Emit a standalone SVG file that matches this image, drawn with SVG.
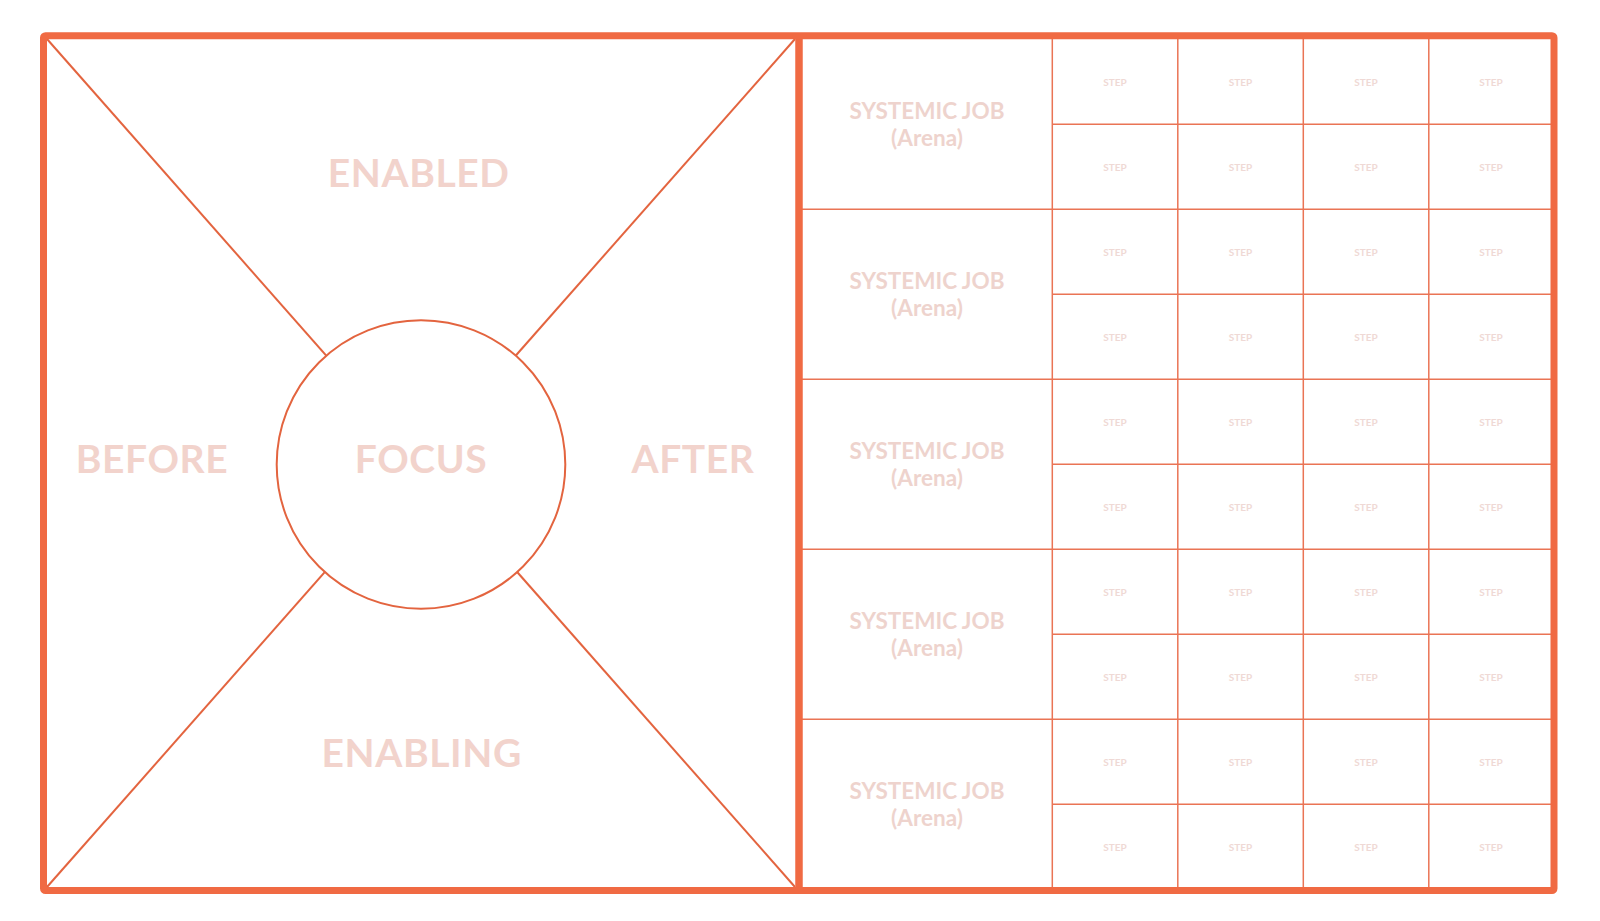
<svg xmlns="http://www.w3.org/2000/svg" width="1600" height="921" viewBox="0 0 1600 921">
<style>
.frame{fill:none;stroke:#f06a43;stroke-width:7}
.div{stroke:#f06a43;stroke-width:7.5}
.diag{stroke:#e3643f;stroke-width:2}
.grid{stroke:#ea7455;stroke-width:1.5}
.big{font-family:Lato,"Open Sans",sans-serif;font-weight:700;font-size:39px;letter-spacing:0.6px;fill:#f2d3cc;text-anchor:middle}
.job{font-family:Lato,"Open Sans",sans-serif;font-weight:700;font-size:22.5px;fill:#eed3cd;text-anchor:middle}
.step{font-family:Lato,"Open Sans",sans-serif;font-weight:700;font-size:10px;fill:#efd9d5;text-anchor:middle}
</style>
<rect width="1600" height="921" fill="#ffffff"/>
<g id="connectors">
<line class="diag" x1="47" y1="39" x2="795" y2="887"/>
<line class="diag" x1="795" y1="39" x2="47" y2="887"/>
</g>
<g id="focus">
<circle cx="421" cy="464.5" r="144.3" fill="#ffffff" stroke="#e3643f" stroke-width="2"/>
<text class="big" x="421" y="473.3">FOCUS</text>
</g>
<g id="enabled"><text class="big" x="418.7" y="186.7">ENABLED</text></g>
<g id="before"><text class="big" x="152" y="473.3">BEFORE</text></g>
<g id="after"><text class="big" x="693" y="473.3">AFTER</text></g>
<g id="enabling"><text class="big" x="421.7" y="766.7">ENABLING</text></g>
<g id="grid">
<line class="grid" x1="802" y1="209.3" x2="1551" y2="209.3"/>
<line class="grid" x1="802" y1="379.3" x2="1551" y2="379.3"/>
<line class="grid" x1="802" y1="549.3" x2="1551" y2="549.3"/>
<line class="grid" x1="802" y1="719.3" x2="1551" y2="719.3"/>
<line class="grid" x1="1052.3" y1="124.3" x2="1551" y2="124.3"/>
<line class="grid" x1="1052.3" y1="294.3" x2="1551" y2="294.3"/>
<line class="grid" x1="1052.3" y1="464.3" x2="1551" y2="464.3"/>
<line class="grid" x1="1052.3" y1="634.3" x2="1551" y2="634.3"/>
<line class="grid" x1="1052.3" y1="804.3" x2="1551" y2="804.3"/>
<line class="grid" x1="1052.3" y1="39" x2="1052.3" y2="887"/>
<line class="grid" x1="1177.8" y1="39" x2="1177.8" y2="887"/>
<line class="grid" x1="1303.3" y1="39" x2="1303.3" y2="887"/>
<line class="grid" x1="1428.8" y1="39" x2="1428.8" y2="887"/>
</g>
<g id="job1"><text class="job" x="927" y="119">SYSTEMIC JOB</text><text class="job" x="927" y="146.3">(Arena)</text></g>
<g id="job2"><text class="job" x="927" y="289">SYSTEMIC JOB</text><text class="job" x="927" y="316.3">(Arena)</text></g>
<g id="job3"><text class="job" x="927" y="459">SYSTEMIC JOB</text><text class="job" x="927" y="486.3">(Arena)</text></g>
<g id="job4"><text class="job" x="927" y="629">SYSTEMIC JOB</text><text class="job" x="927" y="656.3">(Arena)</text></g>
<g id="job5"><text class="job" x="927" y="799">SYSTEMIC JOB</text><text class="job" x="927" y="826.3">(Arena)</text></g>
<g id="steps">
<g id="steprow1"><text class="step" x="1115" y="85.5">STEP</text><text class="step" x="1240.5" y="85.5">STEP</text><text class="step" x="1366" y="85.5">STEP</text><text class="step" x="1491" y="85.5">STEP</text></g>
<g id="steprow2"><text class="step" x="1115" y="170.5">STEP</text><text class="step" x="1240.5" y="170.5">STEP</text><text class="step" x="1366" y="170.5">STEP</text><text class="step" x="1491" y="170.5">STEP</text></g>
<g id="steprow3"><text class="step" x="1115" y="255.5">STEP</text><text class="step" x="1240.5" y="255.5">STEP</text><text class="step" x="1366" y="255.5">STEP</text><text class="step" x="1491" y="255.5">STEP</text></g>
<g id="steprow4"><text class="step" x="1115" y="340.5">STEP</text><text class="step" x="1240.5" y="340.5">STEP</text><text class="step" x="1366" y="340.5">STEP</text><text class="step" x="1491" y="340.5">STEP</text></g>
<g id="steprow5"><text class="step" x="1115" y="425.5">STEP</text><text class="step" x="1240.5" y="425.5">STEP</text><text class="step" x="1366" y="425.5">STEP</text><text class="step" x="1491" y="425.5">STEP</text></g>
<g id="steprow6"><text class="step" x="1115" y="510.5">STEP</text><text class="step" x="1240.5" y="510.5">STEP</text><text class="step" x="1366" y="510.5">STEP</text><text class="step" x="1491" y="510.5">STEP</text></g>
<g id="steprow7"><text class="step" x="1115" y="595.5">STEP</text><text class="step" x="1240.5" y="595.5">STEP</text><text class="step" x="1366" y="595.5">STEP</text><text class="step" x="1491" y="595.5">STEP</text></g>
<g id="steprow8"><text class="step" x="1115" y="680.5">STEP</text><text class="step" x="1240.5" y="680.5">STEP</text><text class="step" x="1366" y="680.5">STEP</text><text class="step" x="1491" y="680.5">STEP</text></g>
<g id="steprow9"><text class="step" x="1115" y="765.5">STEP</text><text class="step" x="1240.5" y="765.5">STEP</text><text class="step" x="1366" y="765.5">STEP</text><text class="step" x="1491" y="765.5">STEP</text></g>
<g id="steprow10"><text class="step" x="1115" y="850.5">STEP</text><text class="step" x="1240.5" y="850.5">STEP</text><text class="step" x="1366" y="850.5">STEP</text><text class="step" x="1491" y="850.5">STEP</text></g>
</g>
<g id="frame">
<line class="div" x1="799" y1="35.7" x2="799" y2="890.5"/>
<rect class="frame" x="43.5" y="35.7" width="1510.5" height="854.8" rx="2"/>
</g>
</svg>
